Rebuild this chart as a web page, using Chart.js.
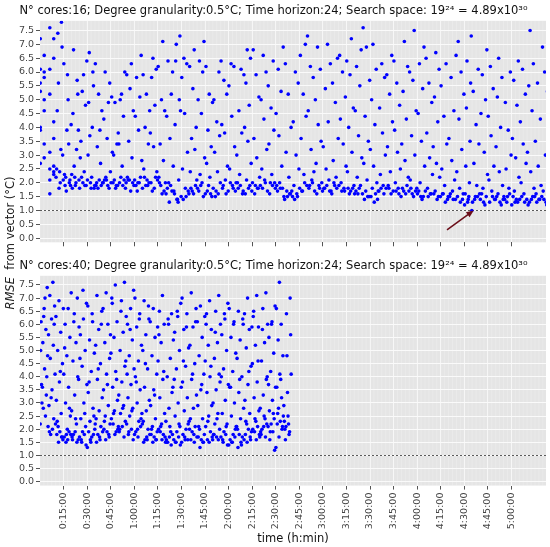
<!DOCTYPE html>
<html><head><meta charset="utf-8">
<script src="https://cdn.jsdelivr.net/npm/chart.js@4/dist/chart.umd.min.js"></script>
<style>
body{margin:0;width:550px;height:547px;background:#fff;font-family:"DejaVu Sans",sans-serif;position:relative;overflow:hidden}
.box{position:absolute;left:0;width:550px}
#ylab{position:absolute;left:-65px;top:236px;width:150px;text-align:center;transform:rotate(-90deg);font-size:11.5px;color:#222}
</style></head><body>
<div class="box" style="top:0;height:250px"><canvas id="c16"></canvas></div>
<div class="box" style="top:259px;height:288px"><canvas id="c40"></canvas></div>
<div id="ylab"><i>RMSE</i>&nbsp; from vector (°C)</div>
<script>
// time buckets are 5 minutes wide; each row = RMSE values seen in that bucket
const bucketMinutes = 5;
const rmse16 = [
 [2.7,3.4,4.0,4.6,5.3,5.8,6.1,6.6,7.2,2.9,3.9,5.0,5.6,6.0],
 [2.5,2.3,2.1,2.6,3.1,4.2,6.1,6.5,7.6,7.2,5.2,3.6,1.6,2.4],
 [2.4,2.2,2.0,2.5,3.2,4.6,7.8,7.4,6.9,5.6,3.0,1.8,2.1],
 [2.0,2.2,2.1,1.7,1.9,3.9,4.1,5.9,6.3,5.0,2.3,3.4,1.9],
 [2.1,1.9,2.3,2.0,1.8,3.2,4.5,5.7,6.8,5.2,2.6,3.9,2.2],
 [2.2,1.9,2.0,1.8,2.4,3.5,4.8,5.3,6.4,5.9,2.9,1.9],
 [2.0,1.9,1.8,2.1,2.2,3.0,4.0,4.9,6.0,6.7,5.5,3.7,1.8],
 [1.9,1.8,2.0,2.1,1.9,2.7,3.3,4.6,5.2,6.3,3.9,2.0],
 [2.0,1.9,2.1,1.8,2.2,2.4,3.6,4.3,4.9,6.0,5.6,2.1],
 [2.0,1.9,2.1,2.0,1.8,3.1,3.4,3.0,3.8,4.9,5.1,1.9],
 [1.9,2.0,2.1,2.2,1.8,2.6,3.4,4.4,5.0,6.0,5.2,2.0],
 [2.0,2.1,1.9,1.7,2.2,2.9,3.5,4.6,5.4,5.9,6.3,2.1],
 [2.1,2.0,1.9,2.2,1.7,2.8,3.9,4.4,5.1,5.8,6.6,2.0],
 [2.2,2.0,1.9,1.8,2.1,2.5,3.4,4.0,4.6,5.2,5.9,1.9],
 [1.8,2.0,2.2,1.7,2.4,3.3,3.8,4.8,5.8,6.1,6.5,2.1],
 [1.7,1.9,2.0,1.6,2.2,2.8,3.4,4.6,5.0,6.2,7.1,2.0],
 [1.6,1.9,1.8,1.7,2.0,2.6,3.6,4.4,5.2,6.4,6.0,1.3],
 [1.5,1.4,1.7,1.3,1.6,2.1,4.1,5.0,6.4,7.3,7.0,4.6,1.4],
 [1.6,1.5,1.4,1.7,1.8,2.5,3.1,4.5,5.8,6.3,6.5],
 [1.9,1.7,2.1,1.6,2.4,3.2,3.6,4.0,5.4,6.2,6.8,1.8],
 [1.8,2.0,1.7,1.5,2.3,2.9,4.5,5.0,6.0,6.4,7.1,1.9],
 [1.7,1.5,1.9,1.6,2.2,2.7,3.3,3.9,4.9,5.2,6.2,1.6],
 [1.8,1.6,1.5,2.0,2.4,3.1,3.7,4.2,5.0,6.0,1.7],
 [1.9,1.7,2.1,1.8,2.6,3.8,4.1,5.2,5.7,6.4,1.6],
 [1.8,2.0,1.7,1.9,2.5,3.3,4.4,5.5,6.2,6.3,2.0],
 [1.7,1.9,2.0,1.6,2.3,3.0,3.8,4.6,5.9,6.1,1.8],
 [1.8,1.6,1.9,2.1,2.7,3.5,4.0,4.8,5.6,6.5,6.8,1.7],
 [1.9,2.0,1.8,1.6,2.2,2.9,3.6,5.1,5.9,6.8,1.8],
 [2.0,1.8,1.7,2.1,2.5,3.2,4.3,5.0,6.0,6.6,1.9],
 [1.8,1.9,1.6,2.0,2.3,3.4,3.9,4.7,5.5,6.4,2.0],
 [1.7,1.8,2.0,1.9,2.6,3.7,4.5,5.3,6.1,6.9,1.8],
 [1.5,1.4,1.6,1.7,1.5,2.2,3.1,4.0,5.2,6.3,1.6],
 [1.5,1.4,1.7,1.6,1.9,2.5,3.0,4.2,5.6,6.0,1.5],
 [1.8,2.0,1.7,1.9,2.3,3.6,4.4,5.2,6.6,7.0,1.7],
 [1.9,1.7,2.1,1.8,2.4,3.2,4.6,5.8,6.2,7.3,2.0],
 [1.8,1.6,2.0,1.9,2.7,3.5,4.1,5.0,6.1,6.9,1.7],
 [1.7,1.9,1.8,2.1,2.5,3.3,4.2,5.4,6.3,7.0,1.8],
 [1.6,1.8,2.0,1.7,2.2,2.8,3.6,4.9,5.6,6.5,1.9],
 [1.7,1.9,1.8,2.0,2.6,3.4,4.3,5.1,6.0,6.6,1.7],
 [1.8,1.6,1.9,1.7,2.4,3.1,4.0,4.7,5.9,6.4,7.2,1.8],
 [1.6,1.8,1.7,1.9,2.2,2.9,3.7,4.6,5.5,6.2,6.8,1.6],
 [1.4,1.5,1.7,1.6,2.1,2.7,3.5,4.4,5.7,6.9,7.6,1.5],
 [1.3,1.5,1.6,1.8,2.0,2.6,3.2,4.1,5.0,6.1,7.0,1.4],
 [1.6,1.8,1.7,1.9,2.3,3.0,3.8,4.7,5.8,6.3,1.7],
 [1.8,1.6,1.9,1.7,2.4,3.3,4.2,5.2,5.9,6.6,1.8],
 [1.7,1.5,1.8,2.0,2.5,3.1,3.9,4.8,5.6,6.4,1.6],
 [1.6,1.8,1.9,1.7,2.2,2.8,3.4,4.3,5.3,6.2,7.1,1.7],
 [1.7,1.6,1.8,1.5,2.1,3.0,3.7,4.6,5.7,6.0,7.5,1.8],
 [1.6,1.4,1.7,1.5,2.0,2.6,3.5,4.5,5.4,6.3,6.9,1.5],
 [1.5,1.7,1.6,1.8,2.3,2.9,3.8,4.9,5.6,6.5,1.6],
 [1.4,1.6,1.5,1.7,2.2,2.7,3.3,4.2,5.1,6.1,6.7,1.5],
 [1.5,1.3,1.6,1.4,1.9,2.5,3.4,4.4,5.5,6.3,1.6],
 [1.6,1.4,1.7,1.5,2.1,2.8,3.6,4.6,5.8,6.6,1.4],
 [1.3,1.5,1.4,1.8,2.4,3.2,4.3,5.2,6.0,7.1,1.6],
 [1.4,1.2,1.5,1.6,2.0,2.6,3.5,4.7,5.6,6.4,7.3,1.3,1.0],
 [1.3,1.5,1.4,1.6,1.9,2.7,3.4,4.1,5.3,6.1,1.5],
 [1.4,1.2,1.6,1.5,1.8,2.3,3.1,4.5,5.0,5.9,6.8,1.3],
 [1.5,1.3,1.4,1.7,2.1,2.6,3.7,4.4,5.4,6.2,1.4],
 [1.3,1.5,1.2,1.6,1.9,2.4,3.3,4.0,5.1,5.8,6.5,1.4],
 [1.4,1.6,1.3,1.5,1.8,2.5,3.0,3.9,4.9,6.0,1.5],
 [1.2,1.4,1.5,1.3,1.7,2.2,2.9,3.6,4.8,5.7,6.4,1.3],
 [1.3,1.5,1.4,1.6,2.0,2.7,3.4,4.2,5.2,6.1,1.4],
 [1.4,1.2,1.5,1.3,1.8,2.4,3.1,4.6,5.5,6.3,7.5,1.5],
 [1.3,1.5,1.4,1.6,1.9,2.6,3.5,4.3,5.6,6.9,1.4],
 [1.2,1.4,1.5,1.3,1.7,2.3,3.0,4.1,5.3,6.0,1.3]
];
const rmse40 = [
 [2.2,2.8,3.3,3.7,4.3,4.8,5.3,5.8,6.1,6.6,7.4,3.6,2.5,5.0,6.3,4.0,3.0,7.0],
 [1.9,2.0,2.2,1.8,2.4,2.9,3.5,4.1,4.7,5.2,5.6,6.2,6.7,7.1,7.6,2.1,3.2,6.0],
 [1.5,1.7,1.8,1.9,1.6,2.1,2.6,3.1,3.8,4.5,5.0,5.7,6.3,6.9,1.7,2.3,4.2,6.6],
 [1.6,1.8,1.5,1.9,1.7,2.0,2.5,3.0,3.6,4.1,4.8,5.5,6.0,6.6,7.2,1.8,2.8,5.1],
 [1.5,1.7,1.9,1.6,1.8,2.2,2.7,3.3,4.0,4.6,5.3,5.9,6.4,7.0,1.6,2.4,3.9,6.1],
 [1.4,1.6,1.8,1.7,1.9,2.1,2.4,3.0,3.7,4.4,5.0,5.6,6.2,6.8,1.5,2.6,4.7,7.3],
 [1.3,1.6,1.8,1.9,1.7,2.0,2.3,2.8,3.4,4.2,4.9,5.4,6.1,6.7,1.5,2.5,3.8,6.4],
 [1.5,1.7,1.9,1.8,2.1,2.4,2.7,3.2,3.9,4.5,5.2,5.8,6.5,7.1,1.6,2.2,4.3,6.0],
 [1.6,1.8,2.0,1.9,2.2,2.5,2.9,3.5,4.1,4.7,5.3,6.0,6.6,7.2,1.7,2.3,3.7,5.6],
 [1.8,2.0,2.2,1.9,2.4,2.7,3.1,3.6,4.2,4.9,5.5,6.1,6.8,7.5,2.1,2.6,3.9,7.0],
 [1.7,1.9,2.1,2.3,2.6,2.9,3.3,3.8,4.4,5.0,5.7,6.3,6.9,7.6,2.0,2.8,4.6,6.5],
 [1.6,1.8,2.0,2.2,2.5,2.8,3.2,3.7,4.3,4.8,5.4,6.0,6.6,7.3,1.9,2.7,4.1,5.8],
 [1.8,2.0,2.1,1.9,2.3,2.6,3.0,3.5,4.0,4.6,5.2,5.9,6.4,7.0,1.7,2.4,3.8,6.2],
 [1.5,1.7,1.8,1.6,2.0,2.3,2.7,3.1,3.6,4.3,5.0,5.6,6.2,6.9,1.6,2.2,4.5,6.7],
 [1.5,1.6,1.8,1.7,1.9,2.1,2.4,2.9,3.5,4.1,4.8,5.5,6.1,6.6,1.6,2.0,3.3,5.9],
 [1.6,1.7,1.9,1.8,2.0,2.2,2.6,3.2,3.9,4.6,5.3,6.0,6.5,7.1,1.5,2.1,4.2,5.6],
 [1.4,1.6,1.7,1.8,1.5,1.9,2.3,2.8,3.4,4.0,4.7,5.4,6.0,6.4,1.5,2.1,3.6,6.2],
 [1.4,1.5,1.7,1.6,1.9,2.1,2.5,3.0,3.6,4.3,5.0,5.7,6.3,6.8,1.5,2.2,3.9,6.5],
 [1.5,1.7,1.6,1.8,2.0,2.3,2.7,3.2,3.8,4.4,5.1,5.8,6.4,7.0,1.6,2.2,4.6,5.9],
 [1.6,1.8,1.7,1.9,2.1,2.4,2.8,3.3,3.9,4.5,5.2,5.9,6.6,7.2,1.5,2.0,4.1,6.1],
 [1.3,1.5,1.7,1.6,1.8,2.0,2.4,2.9,3.5,4.1,4.8,5.5,6.1,6.7,1.5,2.1,3.7,6.3],
 [1.5,1.7,1.6,1.9,2.1,2.5,2.9,3.4,4.0,4.6,5.2,5.8,6.4,6.9,1.6,2.3,4.4,6.0],
 [1.6,1.8,1.7,2.0,2.2,2.6,3.0,3.5,4.1,4.7,5.3,6.0,6.5,7.1,1.8,2.4,3.8,5.7],
 [1.4,1.6,1.8,1.7,1.9,2.2,2.6,3.1,3.7,4.3,5.0,5.6,6.2,6.8,1.5,2.1,4.0,6.4],
 [1.4,1.5,1.7,1.6,1.8,2.1,2.5,3.0,3.6,4.2,4.9,5.5,6.1,6.6,1.5,2.0,3.6,6.0],
 [1.3,1.5,1.6,1.8,1.7,2.0,2.4,2.8,3.4,4.0,4.7,5.4,6.0,6.5,1.4,2.1,3.9,6.2],
 [1.5,1.7,1.8,2.0,1.9,2.2,2.6,3.1,3.7,4.4,5.1,5.8,6.4,7.0,1.6,2.3,4.2,5.9],
 [1.6,1.8,1.9,2.1,2.0,2.3,2.7,3.2,3.8,4.5,5.2,5.9,6.5,7.1,1.7,2.4,4.6,6.3],
 [1.7,1.9,2.1,2.2,2.0,2.4,2.8,3.3,3.9,4.6,5.3,6.0,6.6,7.2,1.8,2.5,4.0,5.8],
 [1.2,1.6,1.9,2.1,2.2,2.4,2.7,3.1,3.6,4.2,4.9,5.5,6.1,6.7,1.9,2.6,3.7,6.0],
 [1.3,1.7,2.0,2.2,2.3,2.5,2.8,3.2,3.6,4.1,4.8,5.4,6.0,6.6,7.6,2.1,2.6,3.9],
 [1.6,1.8,2.0,2.2,2.3,2.5,2.9,3.4,4.1,4.8,5.6,6.4,7.0,2.1,1.9]
];
const tickMinutes = [15,30,45,60,75,90,105,120,135,150,165,180,195,210,225,240,255,270,285,300];
const yTicks = [0,0.5,1,1.5,2,2.5,3,3.5,4,4.5,5,5.5,6,6.5,7,7.5];
const threshold = 1.0;
const xMax = 322;
const titleText16 = 'N\u00B0 cores:16; Degree granularity:0.5\u00B0C; Time horizon:24; Search space: 19\u00B2\u2074 = 4.89x10\u00B3\u2070';
const titleText40 = 'N\u00B0 cores:40; Degree granularity:0.5\u00B0C; Time horizon:24; Search space: 19\u00B2\u2074 = 4.89x10\u00B3\u2070';
// arrow in top panel points at the one run that reached the threshold
const arrowFrom = [259, 0.3], arrowTo = [276, 1.0];

function toPoints(rows) {
  const pts = [];
  rows.forEach((vals, b) => {
    const n = vals.length;
    vals.forEach((v, i) => {
      const slot = (i * 7 + b * 3) % n; // scramble the order inside a bucket
      pts.push({x: b * bucketMinutes + (slot + 0.5) * bucketMinutes / n, y: v});
    });
  });
  return pts;
}

function fmt(m) {
  const h = Math.floor(m / 60), mm = m % 60;
  return h + ':' + String(mm).padStart(2, '0') + ':00';
}

const bgPlugin = {
  id: 'bg',
  beforeDraw(chart) {
    const a = chart.chartArea, ctx = chart.ctx;
    ctx.save();
    ctx.fillStyle = '#e5e5e5';
    ctx.fillRect(a.left, a.top, a.right - a.left, a.bottom - a.top);
    const xs = chart.scales.x;
    ctx.strokeStyle = 'rgba(255,255,255,0.35)';
    ctx.lineWidth = 0.6;
    for (let m = 0; m <= xMax; m += 2.5) {
      const px = xs.getPixelForValue(m);
      ctx.beginPath(); ctx.moveTo(px, a.top); ctx.lineTo(px, a.bottom); ctx.stroke();
    }
    ctx.restore();
  }
};

const arrowPlugin = {
  id: 'arrow',
  afterDatasetsDraw(chart, args, opts) {
    if (!opts.on) return;
    const xs = chart.scales.x, ys = chart.scales.y, ctx = chart.ctx;
    const x0 = xs.getPixelForValue(arrowFrom[0]), y0 = ys.getPixelForValue(arrowFrom[1]);
    const x1 = xs.getPixelForValue(arrowTo[0]), y1 = ys.getPixelForValue(arrowTo[1]);
    const ang = Math.atan2(y1 - y0, x1 - x0);
    ctx.save();
    ctx.strokeStyle = '#6b0f1a'; ctx.fillStyle = '#6b0f1a'; ctx.lineWidth = 1.5;
    ctx.beginPath(); ctx.moveTo(x0, y0); ctx.lineTo(x1 - 5 * Math.cos(ang), y1 - 5 * Math.sin(ang)); ctx.stroke();
    ctx.beginPath(); ctx.moveTo(x1, y1);
    ctx.lineTo(x1 - 8 * Math.cos(ang - 0.4), y1 - 8 * Math.sin(ang - 0.4));
    ctx.lineTo(x1 - 8 * Math.cos(ang + 0.4), y1 - 8 * Math.sin(ang + 0.4));
    ctx.closePath(); ctx.fill();
    ctx.restore();
  }
};

function makeChart(id, rows, title, showLabels, arrow, pad) {
  return new Chart(document.getElementById(id), {
    type: 'scatter',
    data: {
      datasets: [
        {data: toPoints(rows), backgroundColor: '#0000ff', borderColor: '#0000ff', pointRadius: 1.8, pointBorderWidth: 0},
        {type: 'line', data: [{x: 0, y: threshold}, {x: xMax, y: threshold}], borderColor: '#333', borderWidth: 0.8,
         borderDash: [2, 2], pointRadius: 0}
      ]
    },
    options: {
      responsive: true, maintainAspectRatio: false, animation: false,
      layout: {padding: pad},
      plugins: {
        legend: {display: false}, tooltip: {enabled: false},
        title: {display: true, text: title, color: '#111', font: {family: 'DejaVu Sans', size: 11.5, weight: 'normal'}, padding: {top: 0, bottom: 3}},
        arrow: {on: arrow}
      },
      scales: {
        x: {
          type: 'linear', min: 0, max: xMax,
          afterBuildTicks: s => { s.ticks = tickMinutes.map(v => ({value: v})); },
          ticks: {display: showLabels, autoSkip: false, callback: v => fmt(v), maxRotation: 90, minRotation: 90,
                  color: '#444', font: {family: 'DejaVu Sans', size: 9.5}, padding: 3},
          grid: {color: 'rgba(255,255,255,0.6)', tickColor: '#555', tickLength: 4, drawTicks: true},
          border: {display: false},
          title: {display: showLabels, text: 'time (h:min)', color: '#111', font: {family: 'DejaVu Sans', size: 11.5}, padding: {top: 0, bottom: 0}}
        },
        y: {
          min: -0.15, max: 7.85,
          afterBuildTicks: s => { s.ticks = yTicks.map(v => ({value: v})); },
          afterFit: s => { s.width = 40; },
          ticks: {autoSkip: false, callback: v => v.toFixed(1), color: '#444', font: {family: 'DejaVu Sans', size: 9.5}, padding: 2},
          grid: {color: '#fafafa', lineWidth: 1, tickColor: '#555', tickLength: 4},
          border: {display: false}
        }
      }
    },
    plugins: [bgPlugin, arrowPlugin]
  });
}

makeChart('c16', rmse16, titleText16, false, true, {left: 0, right: 3, top: 4, bottom: 2});
makeChart('c40', rmse40, titleText40, true, false, {left: 0, right: 3, top: 0, bottom: 1});
</script>
</body></html>
